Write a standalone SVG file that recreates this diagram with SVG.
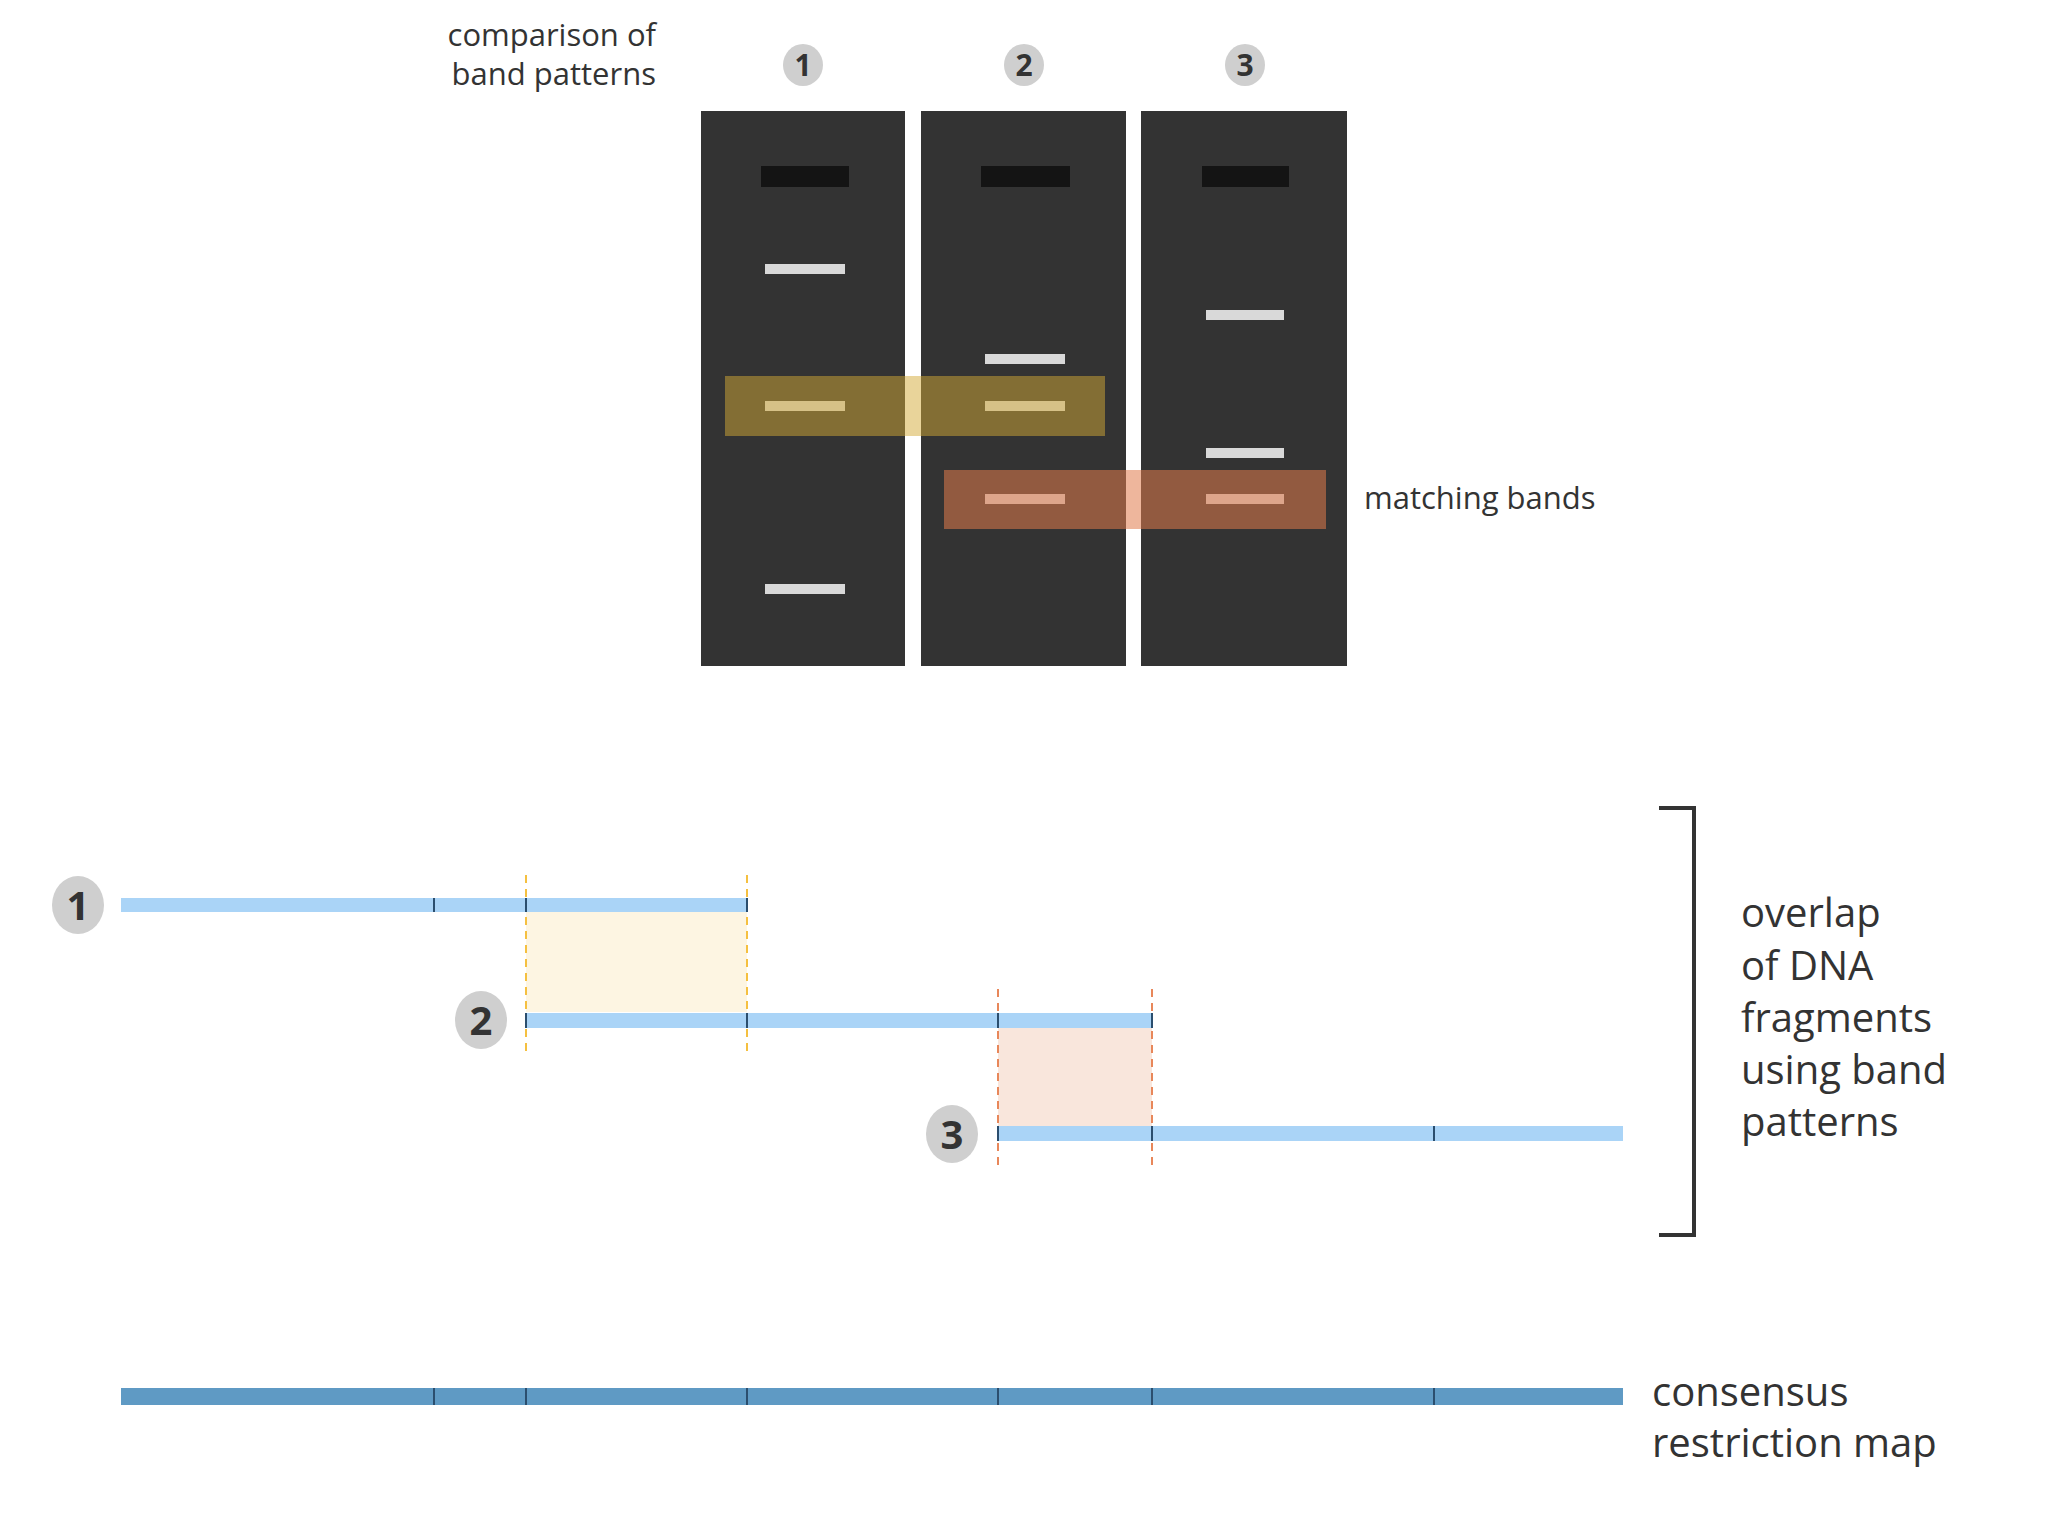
<svg xmlns="http://www.w3.org/2000/svg" width="2048" height="1536" viewBox="0 0 2048 1536">
<style>
text{font-family:"Open Sans","Noto Sans",sans-serif;fill:#333}
.lane{fill:#333}
.well{fill:#141414}
.band{fill:#d9d9d9}
.num{fill:#cfcfcf}
.nt{font-weight:bold;text-anchor:middle;fill:#333}
.frag{fill:#aad4f7}
.tick{stroke:#2b4e6e;stroke-width:2}
.cons{fill:#5f9ac4}
</style>
<rect width="2048" height="1536" fill="#fff"/>
<g id="title"><text x="656" y="46" font-size="31" text-anchor="end">comparison of</text><text x="656" y="85" font-size="31" text-anchor="end">band patterns</text></g>
<g id="lane1"><rect class="lane" x="701" y="111" width="204" height="555"/><rect class="well" x="761" y="166" width="88" height="21"/><rect class="band" x="765" y="264" width="80" height="10"/><rect class="band" x="765" y="401" width="80" height="10"/><rect class="band" x="765" y="584" width="80" height="10"/><ellipse class="num" cx="803" cy="65" rx="20" ry="21"/><text class="nt" x="803" y="76" font-size="30">1</text></g>
<g id="lane2"><rect class="lane" x="921" y="111" width="205" height="555"/><rect class="well" x="981" y="166" width="89" height="21"/><rect class="band" x="985" y="354" width="80" height="10"/><rect class="band" x="985" y="401" width="80" height="10"/><rect class="band" x="985" y="494" width="80" height="10"/><ellipse class="num" cx="1024" cy="65" rx="20" ry="21"/><text class="nt" x="1024" y="76" font-size="30">2</text></g>
<g id="lane3"><rect class="lane" x="1141" y="111" width="206" height="555"/><rect class="well" x="1202" y="166" width="87" height="21"/><rect class="band" x="1206" y="310" width="78" height="10"/><rect class="band" x="1206" y="448" width="78" height="10"/><rect class="band" x="1206" y="494" width="78" height="10"/><ellipse class="num" cx="1245" cy="65" rx="20" ry="21"/><text class="nt" x="1245" y="76" font-size="30">3</text></g>
<g id="matches"><rect x="725" y="376" width="380" height="60" fill="#d4a935" opacity="0.5"/><rect x="944" y="470" width="382" height="59" fill="#e07a4a" opacity="0.55"/><text x="1364" y="509" font-size="31">matching bands</text></g>
<g id="overlaps">
<rect x="526" y="912" width="221" height="100" fill="#fdf5e2"/>
<rect x="998" y="1028" width="154" height="98" fill="#f9e6dc"/>
<g stroke="#f5c040" stroke-width="2" stroke-dasharray="8,6"><line x1="526" y1="875" x2="526" y2="1051"/><line x1="747" y1="875" x2="747" y2="1051"/></g>
<g stroke="#e8875a" stroke-width="2" stroke-dasharray="8,6"><line x1="998" y1="989" x2="998" y2="1165"/><line x1="1152" y1="989" x2="1152" y2="1165"/></g>
</g>
<g id="frag1"><rect class="frag" x="121" y="898" width="626" height="14"/><line class="tick" x1="434" y1="898" x2="434" y2="912"/><line class="tick" x1="526" y1="898" x2="526" y2="912"/><line class="tick" x1="747" y1="898" x2="747" y2="912"/><ellipse class="num" cx="78" cy="905" rx="26" ry="29"/><text class="nt" x="78" y="920" font-size="40">1</text></g>
<g id="frag2"><rect class="frag" x="526" y="1013" width="626" height="15"/><line class="tick" x1="526" y1="1013" x2="526" y2="1028"/><line class="tick" x1="747" y1="1013" x2="747" y2="1028"/><line class="tick" x1="998" y1="1013" x2="998" y2="1028"/><line class="tick" x1="1152" y1="1013" x2="1152" y2="1028"/><ellipse class="num" cx="481" cy="1020" rx="26" ry="29"/><text class="nt" x="481" y="1035" font-size="40">2</text></g>
<g id="frag3"><rect class="frag" x="998" y="1126" width="625" height="15"/><line class="tick" x1="998" y1="1126" x2="998" y2="1141"/><line class="tick" x1="1152" y1="1126" x2="1152" y2="1141"/><line class="tick" x1="1434" y1="1126" x2="1434" y2="1141"/><ellipse class="num" cx="952" cy="1134" rx="26" ry="29"/><text class="nt" x="952" y="1149" font-size="40">3</text></g>
<g id="bracket"><polyline points="1659,808 1694,808 1694,1235 1659,1235" fill="none" stroke="#333" stroke-width="4"/><text font-size="40"><tspan x="1741" y="927">overlap</tspan><tspan x="1741" y="980">of DNA</tspan><tspan x="1741" y="1032">fragments</tspan><tspan x="1741" y="1084">using band</tspan><tspan x="1741" y="1136">patterns</tspan></text></g>
<g id="consensus"><rect class="cons" x="121" y="1388" width="1502" height="17"/><g class="tick"><line x1="434" y1="1388" x2="434" y2="1405"/><line x1="526" y1="1388" x2="526" y2="1405"/><line x1="747" y1="1388" x2="747" y2="1405"/><line x1="998" y1="1388" x2="998" y2="1405"/><line x1="1152" y1="1388" x2="1152" y2="1405"/><line x1="1434" y1="1388" x2="1434" y2="1405"/></g><text font-size="40"><tspan x="1652" y="1406">consensus</tspan><tspan x="1652" y="1457">restriction map</tspan></text></g>
</svg>
